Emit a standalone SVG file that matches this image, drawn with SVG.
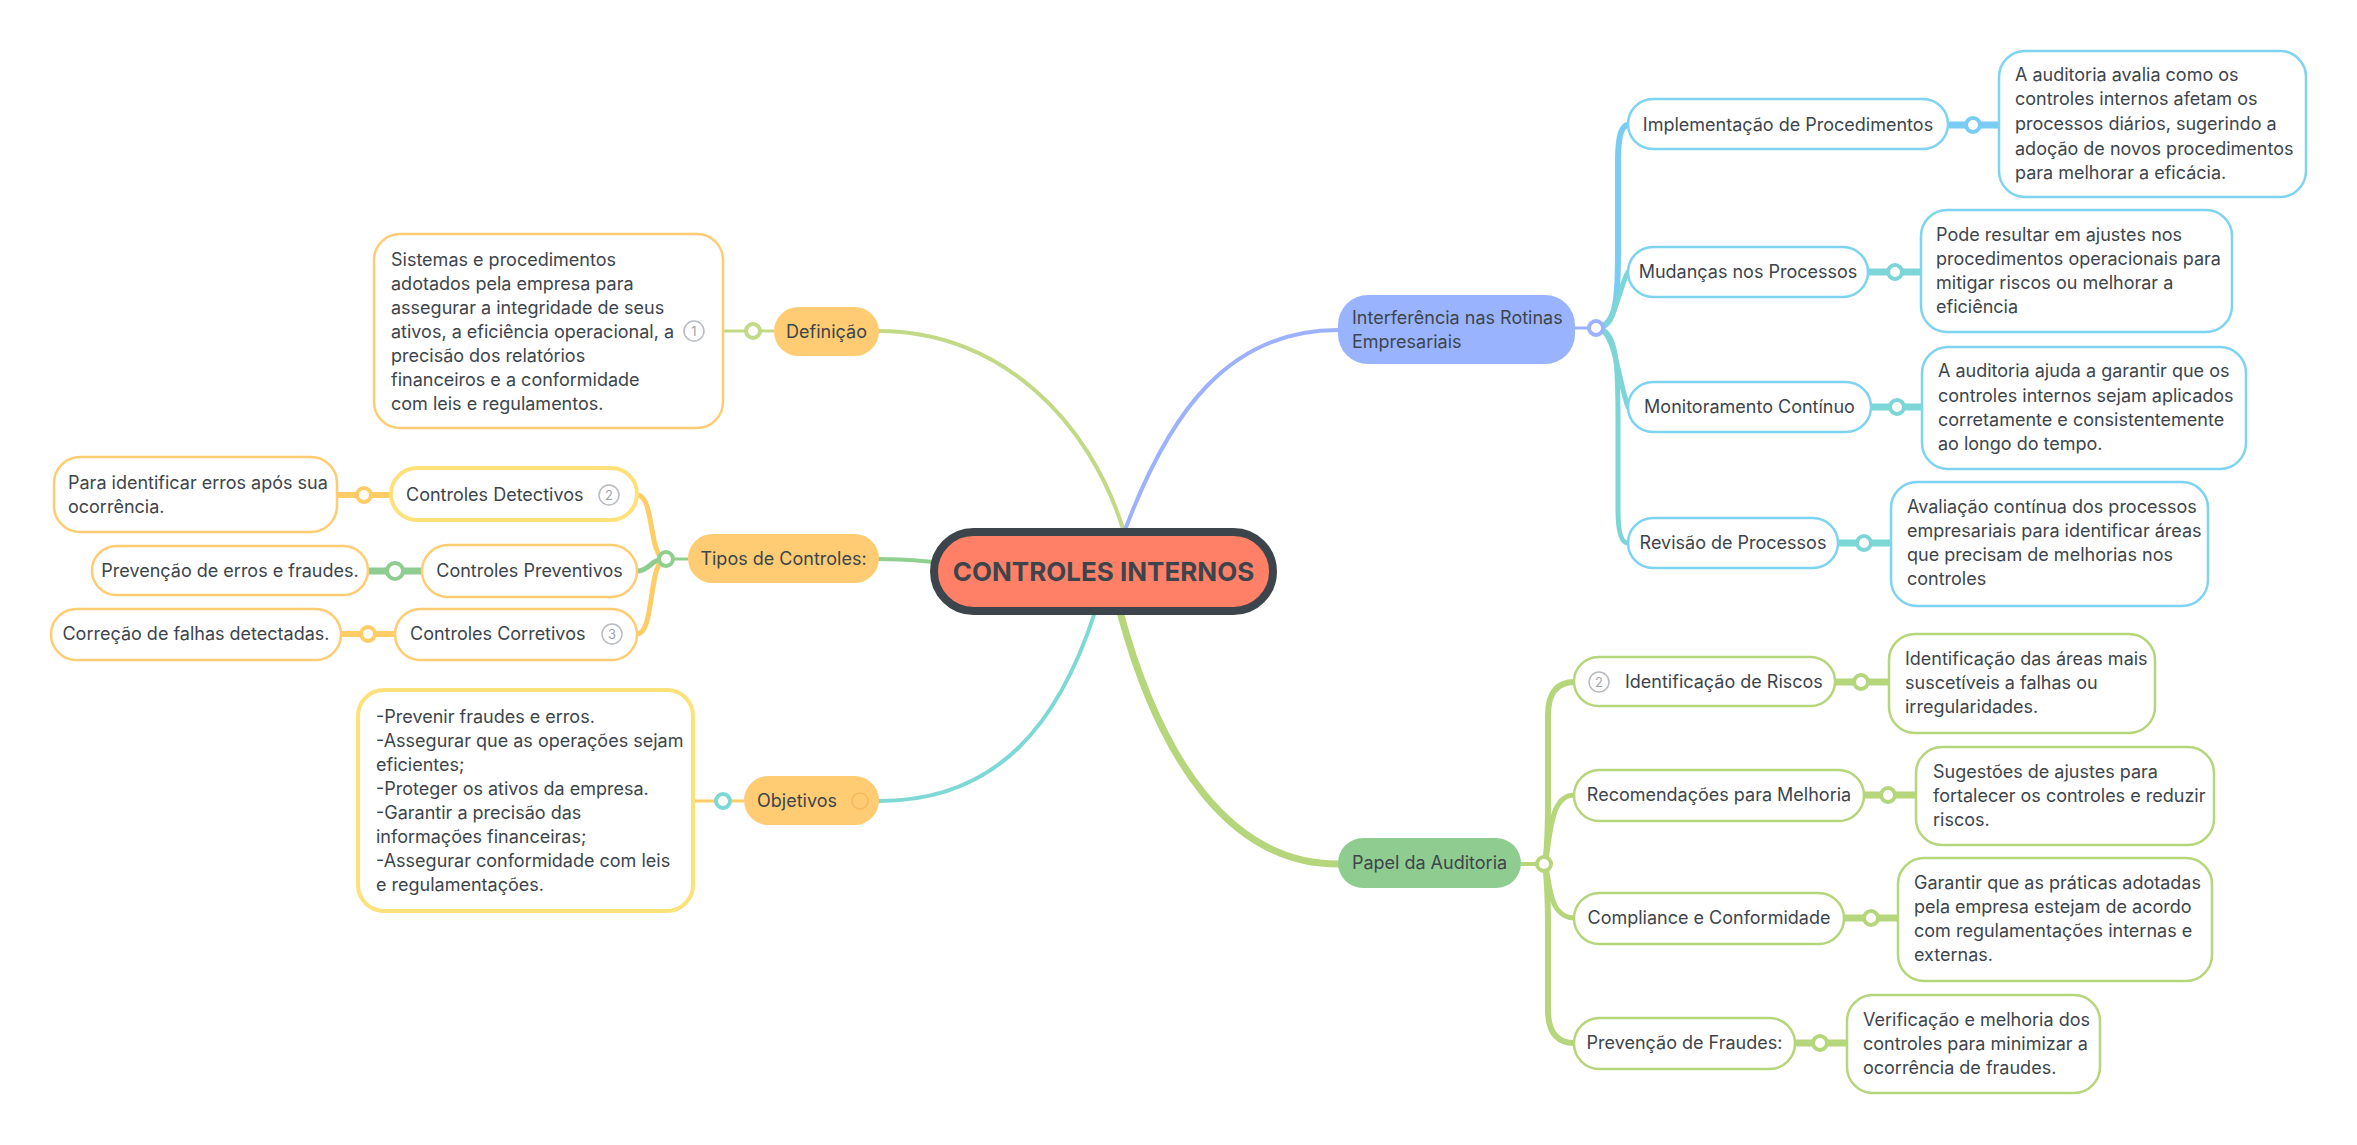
<svg xmlns="http://www.w3.org/2000/svg" width="2357" height="1145" viewBox="0 0 2357 1145">
<style>
text{font-family:Inter,"Open Sans","Liberation Sans",sans-serif;fill:#3d454c;font-size:18px}
.t{font-weight:700;font-size:26px}
.o{fill:#fff;stroke:#ffcc73;stroke-width:2.5}
.oy{fill:#fff;stroke:#ffe17a;stroke-width:4}
.b{fill:#fff;stroke:#7dd3f0;stroke-width:2.5}
.g{fill:#fff;stroke:#b5d67a;stroke-width:2.5}
.c{fill:none;stroke-linecap:round}
.ring{fill:#fff;stroke-width:4}
.num{fill:none;stroke:#b8bcc0;stroke-width:1.5}
.nt{fill:#a0a5aa;font-size:13px}
</style>
<g id="connectors">
<path class="c" d="M1124,532 C1090,420 1000,331 879,331" stroke="#c2d985" stroke-width="4"/>
<path class="c" d="M935,562 C910,560 900,559 879,559" stroke="#8fcf8f" stroke-width="4"/>
<path class="c" d="M1095,612 C1060,720 1000,801 879,801" stroke="#7dd9d6" stroke-width="4"/>
<path class="c" d="M1125,530 C1170,410 1230,330 1338,330" stroke="#9db2ff" stroke-width="4"/>
<path class="c" d="M1120,612 C1160,760 1230,864 1338,864" stroke="#b5d67a" stroke-width="7"/>
<line x1="723" y1="331" x2="774" y2="331" stroke="#c2d985" stroke-width="3"/>
<circle class="ring" cx="753" cy="331" r="7" stroke="#c2d985"/>
<line x1="688" y1="559" x2="666" y2="559" stroke="#8fcf8f" stroke-width="3"/>
<path class="c" d="M666,559 C648,559 655,495 637,495" stroke="#ffcc66" stroke-width="5"/>
<path class="c" d="M666,559 C650,559 650,571 637,571" stroke="#8fcc8f" stroke-width="5"/>
<path class="c" d="M666,559 C648,559 655,634 637,634" stroke="#ffcc66" stroke-width="5"/>
<circle class="ring" cx="666" cy="559" r="7" stroke="#8fcf8f" stroke-width="3"/>
<line x1="337" y1="495" x2="391" y2="495" stroke="#ffcc66" stroke-width="6"/>
<circle class="ring" cx="364" cy="495" r="7" stroke="#ffcc66"/>
<line x1="368" y1="571" x2="422" y2="571" stroke="#8fcc8f" stroke-width="7"/>
<circle class="ring" cx="395" cy="571" r="8" stroke="#8fcc8f" stroke-width="5"/>
<line x1="341" y1="634" x2="395" y2="634" stroke="#ffcc66" stroke-width="6"/>
<circle class="ring" cx="368" cy="634" r="7" stroke="#ffcc66" stroke-width="5"/>
<line x1="693" y1="801" x2="744" y2="801" stroke="#ffcc66" stroke-width="3"/>
<circle class="ring" cx="723" cy="801" r="7" stroke="#7dd9d6"/>
<line x1="1575" y1="328" x2="1596" y2="328" stroke="#9db2ff" stroke-width="3"/>
<path class="c" d="M1596,328 C1618,328 1618,290 1618,250 L1618,160 C1618,135 1622,125 1628,125" stroke="#79cdf5" stroke-width="6"/>
<path class="c" d="M1596,328 C1615,328 1618,290 1628,272" stroke="#7dd6d6" stroke-width="5"/>
<path class="c" d="M1596,328 C1615,328 1618,380 1628,407" stroke="#7dd6d6" stroke-width="5"/>
<path class="c" d="M1596,328 C1618,328 1618,370 1618,420 L1618,510 C1618,535 1622,543 1628,543" stroke="#7dd6d6" stroke-width="5"/>
<circle class="ring" cx="1596" cy="328" r="7" stroke="#9db2ff" stroke-width="3"/>
<line x1="1948" y1="125" x2="1999" y2="125" stroke="#79cdf5" stroke-width="7"/>
<circle class="ring" cx="1973" cy="125" r="7" stroke="#79cdf5" stroke-width="5"/>
<line x1="1868" y1="272" x2="1921" y2="272" stroke="#7dd6d6" stroke-width="7"/>
<circle class="ring" cx="1895" cy="272" r="7" stroke="#7dd6d6" stroke-width="5"/>
<line x1="1871" y1="407" x2="1922" y2="407" stroke="#7dd6d6" stroke-width="7"/>
<circle class="ring" cx="1897" cy="407" r="7" stroke="#7dd6d6" stroke-width="5"/>
<line x1="1838" y1="543" x2="1891" y2="543" stroke="#7dd6d6" stroke-width="7"/>
<circle class="ring" cx="1864" cy="543" r="7" stroke="#7dd6d6" stroke-width="5"/>
<line x1="1521" y1="864" x2="1544" y2="864" stroke="#b5d67a" stroke-width="4"/>
<path class="c" d="M1544,864 C1546,864 1548,840 1548,800 L1548,715 C1548,690 1560,682 1574,682" stroke="#b5d67a" stroke-width="6"/>
<path class="c" d="M1544,864 C1548,864 1548,820 1558,805 C1562,798 1568,795 1574,795" stroke="#b5d67a" stroke-width="5"/>
<path class="c" d="M1544,864 C1548,864 1548,900 1558,910 C1562,915 1568,918 1574,918" stroke="#b5d67a" stroke-width="5"/>
<path class="c" d="M1544,864 C1546,864 1548,890 1548,930 L1548,1010 C1548,1035 1560,1043 1574,1043" stroke="#b5d67a" stroke-width="6"/>
<circle class="ring" cx="1544" cy="864" r="7" stroke="#b5d67a" stroke-width="3"/>
<line x1="1835" y1="682" x2="1889" y2="682" stroke="#b5d67a" stroke-width="7"/>
<circle class="ring" cx="1861" cy="682" r="7" stroke="#b5d67a" stroke-width="5"/>
<line x1="1864" y1="795" x2="1916" y2="795" stroke="#b5d67a" stroke-width="7"/>
<circle class="ring" cx="1888" cy="795" r="7" stroke="#b5d67a" stroke-width="5"/>
<line x1="1844" y1="918" x2="1898" y2="918" stroke="#b5d67a" stroke-width="7"/>
<circle class="ring" cx="1871" cy="918" r="7" stroke="#b5d67a" stroke-width="5"/>
<line x1="1795" y1="1043" x2="1847" y2="1043" stroke="#b5d67a" stroke-width="7"/>
<circle class="ring" cx="1820" cy="1043" r="7" stroke="#b5d67a" stroke-width="5"/>
</g>
<g id="center">
<rect x="934" y="532" width="339" height="79" rx="39.5" fill="#ff8066" stroke="#3d454c" stroke-width="8"/>
<text class="t" x="1103.5" y="581" text-anchor="middle">CONTROLES INTERNOS</text>
</g>
<g id="definicao">
<rect x="774" y="307" width="105" height="49" rx="24.5" fill="#ffcc73"/>
<text x="826.5" y="338" text-anchor="middle">Definição</text>
</g>
<g id="definicao-detalhe">
<rect class="o" x="374" y="234" width="349" height="194" rx="26"/>
<text x="391" y="266">Sistemas e procedimentos</text>
<text x="391" y="290">adotados pela empresa para</text>
<text x="391" y="314">assegurar a integridade de seus</text>
<text x="391" y="338">ativos, a eficiência operacional, a</text>
<text x="391" y="362">precisão dos relatórios</text>
<text x="391" y="386">financeiros e a conformidade</text>
<text x="391" y="410">com leis e regulamentos.</text>
<circle class="num" cx="694" cy="331" r="10"/><text class="nt" x="694" y="336" text-anchor="middle">1</text>
</g>
<g id="tipos">
<rect x="688" y="534" width="191" height="49" rx="24.5" fill="#ffcc73"/>
<text x="783.5" y="565" text-anchor="middle">Tipos de Controles:</text>
</g>
<g id="detectivos">
<rect class="oy" x="391" y="468" width="246" height="52" rx="26"/>
<text x="406" y="501">Controles Detectivos</text>
<circle class="num" cx="609" cy="495" r="10"/><text class="nt" x="609" y="500" text-anchor="middle">2</text>
</g>
<g id="detectivos-detalhe">
<rect class="o" x="54" y="457" width="283" height="75" rx="26"/>
<text x="68" y="489">Para identificar erros após sua</text>
<text x="68" y="513">ocorrência.</text>
</g>
<g id="preventivos">
<rect class="o" x="422" y="545" width="215" height="52" rx="26"/>
<text x="529.5" y="577" text-anchor="middle">Controles Preventivos</text>
</g>
<g id="preventivos-detalhe">
<rect class="o" x="92" y="546" width="276" height="49" rx="24.5"/>
<text x="230" y="577" text-anchor="middle">Prevenção de erros e fraudes.</text>
</g>
<g id="corretivos">
<rect class="o" x="395" y="609" width="242" height="51" rx="25.5"/>
<text x="410" y="640">Controles Corretivos</text>
<circle class="num" cx="612" cy="634" r="10"/><text class="nt" x="612" y="639" text-anchor="middle">3</text>
</g>
<g id="corretivos-detalhe">
<rect class="o" x="51" y="609" width="290" height="51" rx="25.5"/>
<text x="196" y="640" text-anchor="middle">Correção de falhas detectadas.</text>
</g>
<g id="objetivos">
<rect x="744" y="776" width="135" height="49" rx="24.5" fill="#ffcc73"/>
<text x="757" y="807">Objetivos</text>
<circle cx="860" cy="801" r="8" fill="none" stroke="#f5b85c" stroke-width="1.5"/>
</g>
<g id="objetivos-detalhe">
<rect class="oy" x="358" y="690" width="335" height="221" rx="26"/>
<text x="376" y="723">-Prevenir fraudes e erros.</text>
<text x="376" y="747">-Assegurar que as operações sejam</text>
<text x="376" y="771">eficientes;</text>
<text x="376" y="795">-Proteger os ativos da empresa.</text>
<text x="376" y="819">-Garantir a precisão das</text>
<text x="376" y="843">informações financeiras;</text>
<text x="376" y="867">-Assegurar conformidade com leis</text>
<text x="376" y="891">e regulamentações.</text>
</g>
<g id="interferencia">
<rect x="1338" y="295" width="237" height="69" rx="30" fill="#99b3ff"/>
<text x="1352" y="324">Interferência nas Rotinas</text>
<text x="1352" y="348">Empresariais</text>
</g>
<g id="implementacao">
<rect class="b" x="1628" y="99" width="320" height="50" rx="25"/>
<text x="1788" y="131" text-anchor="middle">Implementação de Procedimentos</text>
</g>
<g id="implementacao-detalhe">
<rect class="b" x="1999" y="51" width="307" height="146" rx="26"/>
<text x="2015" y="81">A auditoria avalia como os</text>
<text x="2015" y="105">controles internos afetam os</text>
<text x="2015" y="130">processos diários, sugerindo a</text>
<text x="2015" y="155">adoção de novos procedimentos</text>
<text x="2015" y="179">para melhorar a eficácia.</text>
</g>
<g id="mudancas">
<rect class="b" x="1628" y="247" width="240" height="50" rx="25"/>
<text x="1748" y="278" text-anchor="middle">Mudanças nos Processos</text>
</g>
<g id="mudancas-detalhe">
<rect class="b" x="1921" y="210" width="311" height="122" rx="26"/>
<text x="1936" y="241">Pode resultar em ajustes nos</text>
<text x="1936" y="265">procedimentos operacionais para</text>
<text x="1936" y="289">mitigar riscos ou melhorar a</text>
<text x="1936" y="313">eficiência</text>
</g>
<g id="monitoramento">
<rect class="b" x="1628" y="382" width="243" height="50" rx="25"/>
<text x="1749.5" y="413" text-anchor="middle">Monitoramento Contínuo</text>
</g>
<g id="monitoramento-detalhe">
<rect class="b" x="1922" y="347" width="324" height="122" rx="26"/>
<text x="1938" y="377">A auditoria ajuda a garantir que os</text>
<text x="1938" y="402">controles internos sejam aplicados</text>
<text x="1938" y="426">corretamente e consistentemente</text>
<text x="1938" y="450">ao longo do tempo.</text>
</g>
<g id="revisao">
<rect class="b" x="1628" y="518" width="210" height="50" rx="25"/>
<text x="1733" y="549" text-anchor="middle">Revisão de Processos</text>
</g>
<g id="revisao-detalhe">
<rect class="b" x="1891" y="482" width="317" height="124" rx="26"/>
<text x="1907" y="513">Avaliação contínua dos processos</text>
<text x="1907" y="537">empresariais para identificar áreas</text>
<text x="1907" y="561">que precisam de melhorias nos</text>
<text x="1907" y="585">controles</text>
</g>
<g id="papel">
<rect x="1338" y="838" width="183" height="50" rx="25" fill="#8fcc8f"/>
<text x="1429.5" y="869" text-anchor="middle">Papel da Auditoria</text>
</g>
<g id="identificacao">
<rect class="g" x="1574" y="657" width="261" height="49" rx="24.5"/>
<circle class="num" cx="1599" cy="682" r="10"/><text class="nt" x="1599" y="687" text-anchor="middle">2</text>
<text x="1625" y="688">Identificação de Riscos</text>
</g>
<g id="identificacao-detalhe">
<rect class="g" x="1889" y="634" width="266" height="99" rx="26"/>
<text x="1905" y="665">Identificação das áreas mais</text>
<text x="1905" y="689">suscetíveis a falhas ou</text>
<text x="1905" y="713">irregularidades.</text>
</g>
<g id="recomendacoes">
<rect class="g" x="1574" y="770" width="290" height="51" rx="25.5"/>
<text x="1719" y="801" text-anchor="middle">Recomendações para Melhoria</text>
</g>
<g id="recomendacoes-detalhe">
<rect class="g" x="1916" y="747" width="298" height="98" rx="26"/>
<text x="1933" y="778">Sugestões de ajustes para</text>
<text x="1933" y="802">fortalecer os controles e reduzir</text>
<text x="1933" y="826">riscos.</text>
</g>
<g id="compliance">
<rect class="g" x="1574" y="893" width="270" height="51" rx="25.5"/>
<text x="1709" y="924" text-anchor="middle">Compliance e Conformidade</text>
</g>
<g id="compliance-detalhe">
<rect class="g" x="1898" y="858" width="314" height="123" rx="26"/>
<text x="1914" y="889">Garantir que as práticas adotadas</text>
<text x="1914" y="913">pela empresa estejam de acordo</text>
<text x="1914" y="937">com regulamentações internas e</text>
<text x="1914" y="961">externas.</text>
</g>
<g id="prevencao">
<rect class="g" x="1574" y="1018" width="221" height="51" rx="25.5"/>
<text x="1684.5" y="1049" text-anchor="middle">Prevenção de Fraudes:</text>
</g>
<g id="prevencao-detalhe">
<rect class="g" x="1847" y="995" width="253" height="98" rx="26"/>
<text x="1863" y="1026">Verificação e melhoria dos</text>
<text x="1863" y="1050">controles para minimizar a</text>
<text x="1863" y="1074">ocorrência de fraudes.</text>
</g>
</svg>
